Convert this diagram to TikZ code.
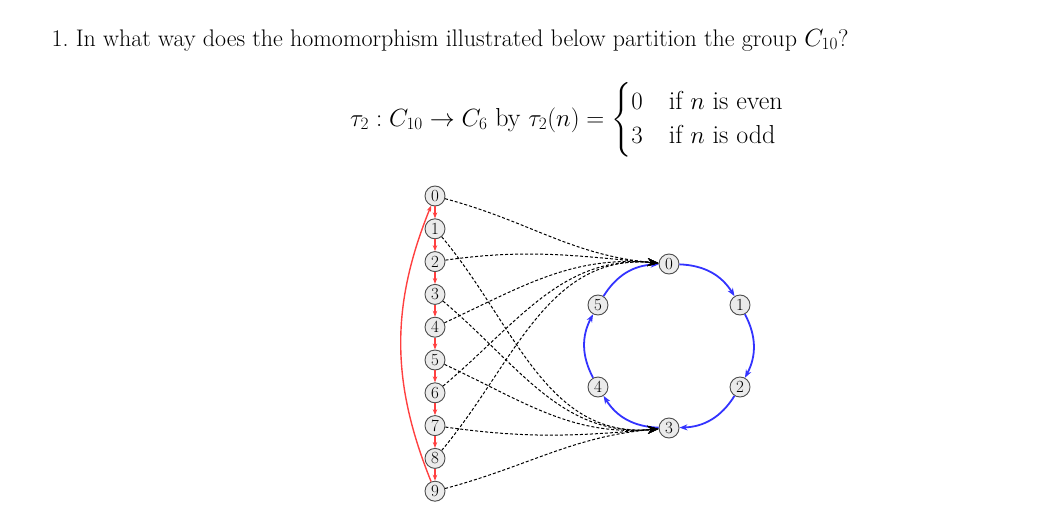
\documentclass[tikz,border=0pt]{standalone}
\usepackage{amsmath}
\usetikzlibrary{arrows.meta}
\begin{document}
\begin{tikzpicture}[x=1pt,y=-1pt,
  vtx/.style={circle,draw=black!70,fill=black!8,line width=0.9pt,inner sep=0pt,minimum size=20pt,font=\fontsize{17}{17}\selectfont},
  redarr/.style={draw=red!75,line width=1.4pt,-{Stealth[length=6pt]}},
  bluarr/.style={draw=blue!80,line width=1.8pt,-{Stealth[length=8pt]}},
  dsh/.style={densely dashed,line width=1pt,-{Stealth[length=11pt,width=8pt]}}]
\useasboundingbox (0,0) rectangle (1052,514);
\node[anchor=west,font=\fontsize{24}{24}\selectfont] (title) at (48,40) {1.\ In what way does the homomorphism illustrated below partition the group $C_{10}$?};
\node[font=\fontsize{26}{28}\selectfont] (f) at (567,120) {$\tau_2: C_{10}\to C_6 \text{ by } \tau_2(n)=\begin{cases}0 & \text{if $n$ is even}\\ 3 & \text{if $n$ is odd}\end{cases}$};
\foreach \i in {0,...,9} \node[vtx] (L\i) at (435,{196+32.8*\i}) {\i};
\foreach \i/\a in {0/90,1/30,2/-30,3/-90,4/-150,5/150} \node[vtx] (R\i) at ({669+82*cos(\a)},{346-82*sin(\a)}) {\i};
\foreach \i/\j in {0/1,1/2,2/3,3/4,4/5,5/6,6/7,7/8,8/9} \draw[redarr] (L\i) -- (L\j);
\draw[redarr] (L9) to[bend left=22] (L0);
\foreach \i/\j in {0/1,1/2,2/3,3/4,4/5,5/0} \draw[bluarr] (R\i) to[bend left=28] (R\j);
\foreach \i/\o in {0/-15,2/8,4/25,6/40,8/50} \draw[dsh] (L\i) to[out=\o,in=175] (R0);
\foreach \i/\o in {9/15,7/-8,5/-25,3/-40,1/-50} \draw[dsh] (L\i) to[out=\o,in=185] (R3);
\end{tikzpicture}
\end{document}
